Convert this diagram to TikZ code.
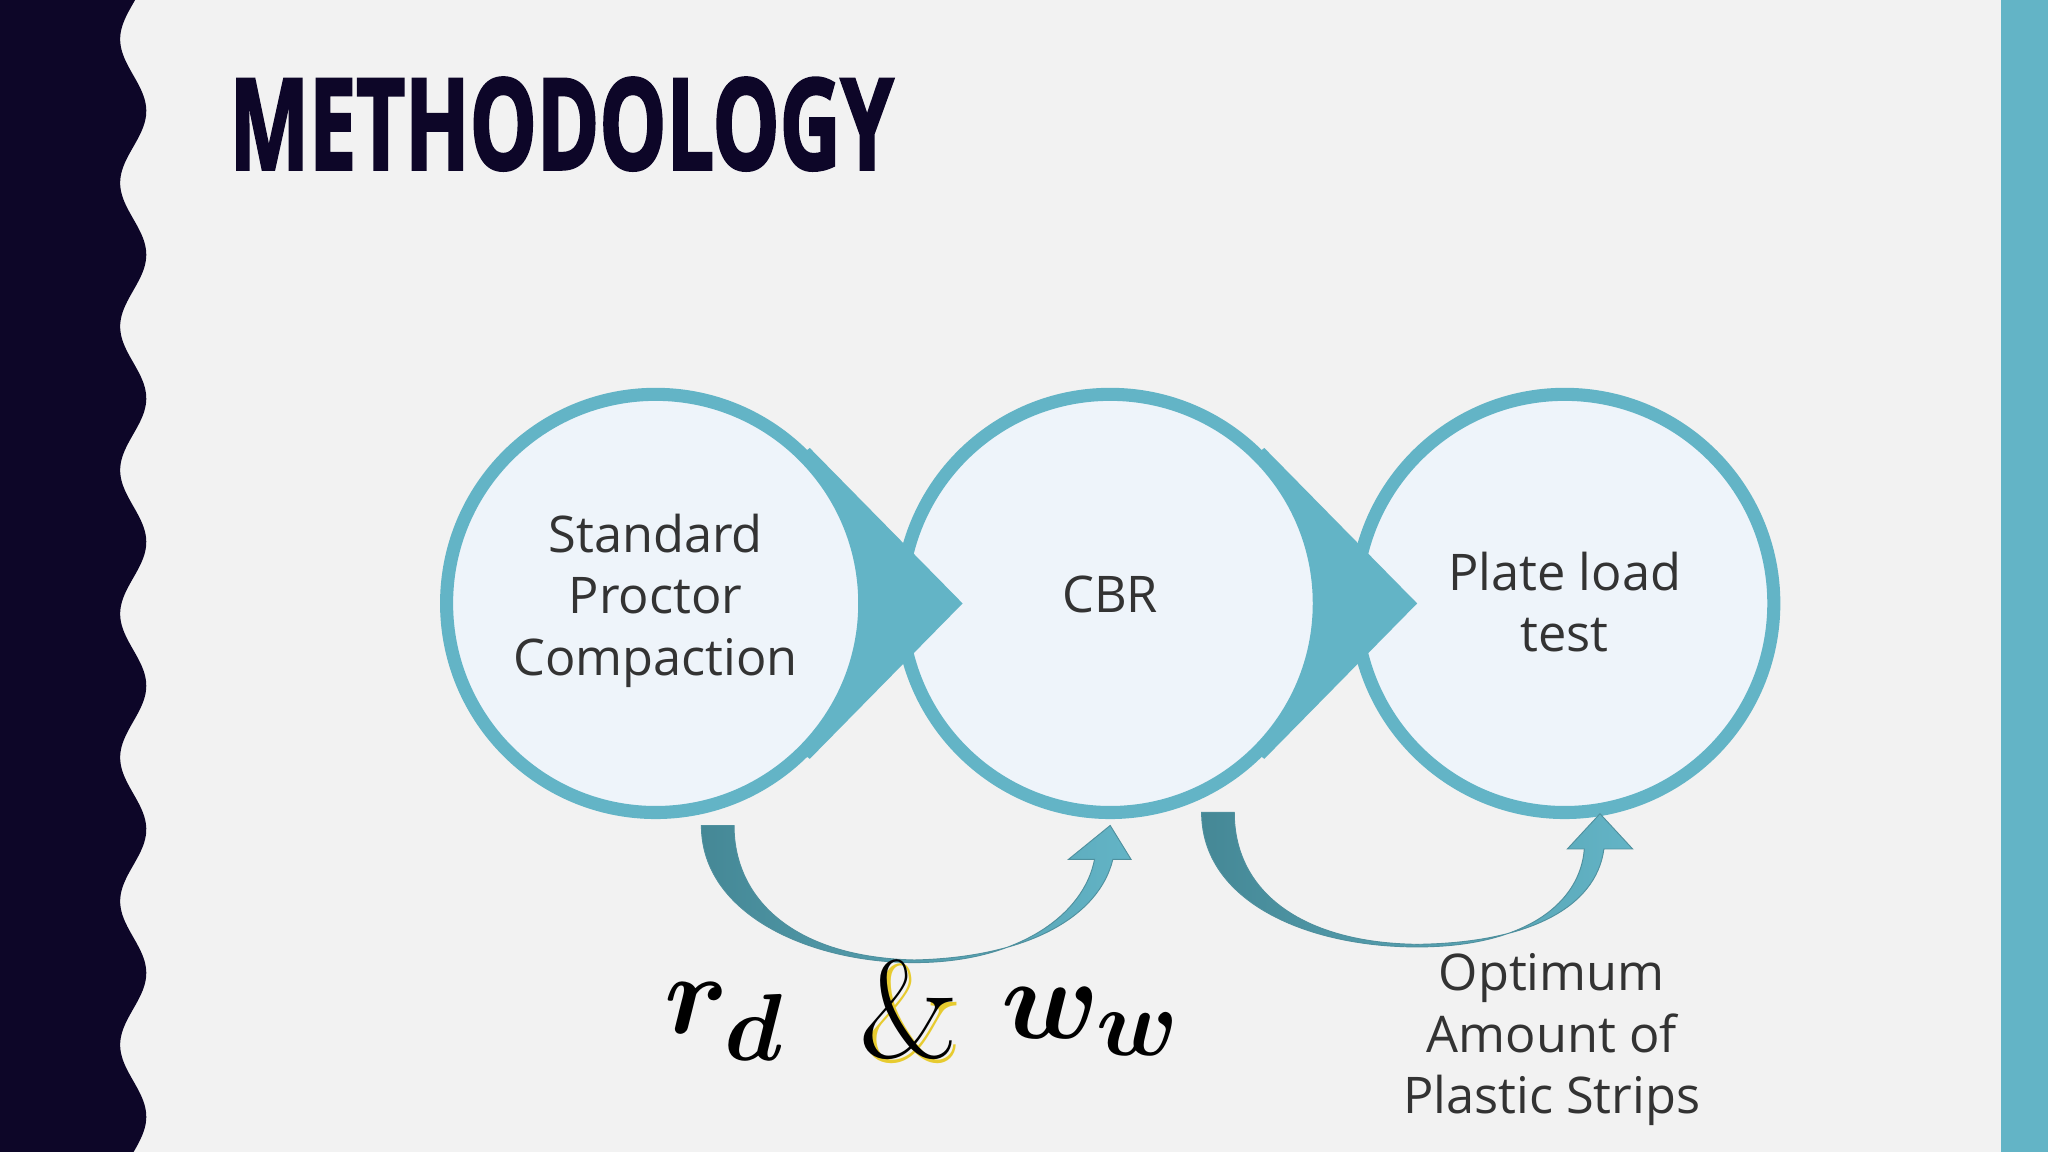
\documentclass[tikz,border=0pt]{standalone}
\usepackage{fontspec}
\setmainfont{Open Sans}
\newfontfamily\lmfont{Latin Modern Roman}
\newfontfamily\heavyfont[FakeBold=2.5]{Open Sans}
\usepackage{amsmath,bm}
\usetikzlibrary{calc}
\definecolor{bg}{HTML}{F2F2F2}
\definecolor{navy}{HTML}{0D0628}
\definecolor{teal}{HTML}{63B4C6}
\definecolor{inner}{HTML}{EEF4FA}
\definecolor{darkteal}{HTML}{458896}
\tikzset{
  ring/.style={draw=teal,line width=0.1cm,fill=inner},
  chev/.style={fill=teal,draw=none},
  lbl/.style={align=center,font=\fontsize{11}{13.4}\selectfont,text=black!80},
  swoosh/.style={left color=darkteal,right color=teal,draw=teal!80!black,line width=0.2pt}
}
\begin{document}
\begin{tikzpicture}[x=0.01cm,y=-0.01cm]
\useasboundingbox (0,0) rectangle (1568,882);
\fill[bg] (0,0) rectangle (1568,882);
\fill[navy] (0,0) -- plot[domain=0:882,samples=200,smooth] ({102+10*cos((\x-85)/110*360)},\x) -- (0,882) -- cycle;
\fill[teal] (1532,0) rectangle (1568,882);
\node[anchor=west,inner sep=0,text=navy] (title) at (175,95) {\resizebox{5.08cm}{0.7cm}{\heavyfont\bfseries METHODOLOGY}};
% circles and chevrons
\node[ring,circle,minimum size=3.2cm] (c3) at (1198,462) {};
\fill[chev] (960,350) -- (1085,462) -- (960,574) -- cycle;
\fill[chev] (968,343) -- (1085,462) -- (968,581) -- (940,560) -- (940,364) -- cycle;
\node[ring,circle,minimum size=3.2cm] (c2) at (850,462) {};
\fill[chev] (620,343) -- (737,462) -- (620,581) -- (592,560) -- (592,364) -- cycle;
\node[ring,circle,minimum size=3.2cm] (c1) at (502,462) {};
\node[lbl] (t1) at (502,460) {Standard\\Proctor\\Compaction};
\node[lbl] (t2) at (850,455) {CBR};
\node[lbl] (t3) at (1198,461) {Plate load\\test};
% swoosh arrows
\path[swoosh] (537,632) .. controls (537,700) and (620,737) .. (700,737)
  .. controls (780,737) and (830,700) .. (838,658) -- (818,658) -- (850,632) -- (866,658) -- (852,658)
  .. controls (842,700) and (790,733) .. (700,735) .. controls (610,733) and (562,690) .. (562,632) -- cycle;
\path[swoosh] (920,622) .. controls (920,690) and (1000,725) .. (1085,725)
  .. controls (1170,725) and (1210,690) .. (1213,650) -- (1200,650) -- (1225,623) -- (1250,650) -- (1228,650)
  .. controls (1222,695) and (1170,722) .. (1085,723) .. controls (1000,722) and (945,685) .. (945,622) -- cycle;
% labels below
\node (rd) at (555,782) {\fontsize{32}{32}\selectfont $\bm{r_d}$};
\node[text=yellow!60!brown] at (699,776) {\fontsize{30}{30}\selectfont\lmfont \&};
\node (amp) at (696,773) {\fontsize{30}{30}\selectfont\lmfont \&};
\node (ww) at (835,782) {\fontsize{32}{32}\selectfont $\bm{w_w}$};
\node[lbl] (opt) at (1188,796) {Optimum\\Amount of\\Plastic Strips};
\end{tikzpicture}
\end{document}
